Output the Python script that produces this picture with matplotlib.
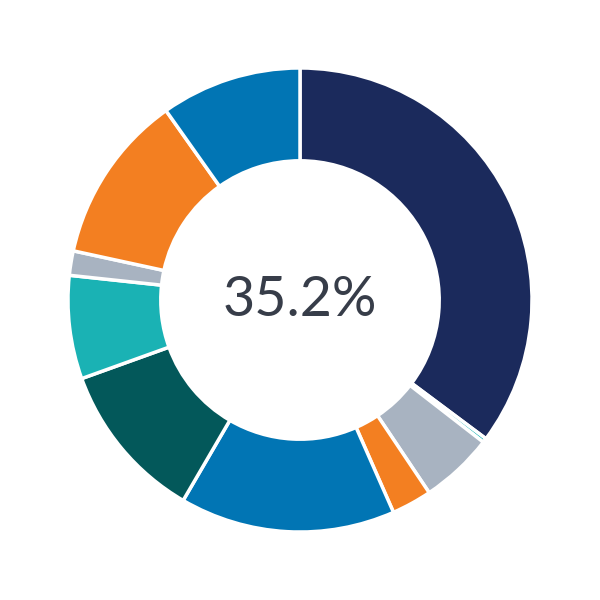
import matplotlib.pyplot as plt

# share of each segment, clockwise from 12 o'clock
shares = [35.2, 0.3, 5.1, 2.8, 15.0, 11.1, 7.2, 1.7, 11.8, 9.8]
colors = [
    "#1b2a5c",
    "#1ab2b4",
    "#a8b3c1",
    "#f37f21",
    "#0175b4",
    "#03585a",
    "#1ab2b4",
    "#a8b3c1",
    "#f37f21",
    "#0175b4",
]
center_label = "35.2%"

fig, ax = plt.subplots(figsize=(6, 6), dpi=100)
fig.subplots_adjust(left=0, right=1, bottom=0, top=1)

ax.pie(
    shares,
    colors=colors,
    startangle=90,
    counterclock=False,
    radius=1.0,
    wedgeprops=dict(width=0.4, edgecolor="white", linewidth=2.5),
)
ax.text(0, 0, center_label, ha="center", va="center",
        fontsize=40, color="#373d49", family="Lato")
ax.set_xlim(-1.293, 1.293)
ax.set_ylim(-1.293, 1.293)
ax.set_aspect("equal")
ax.axis("off")

fig.savefig("out.png", dpi=100, facecolor="white")
